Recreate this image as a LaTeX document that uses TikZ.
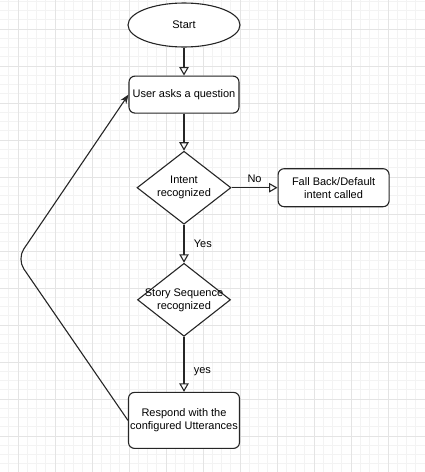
\documentclass[tikz,border=0pt]{standalone}
\usepackage{fontspec}
\setmainfont{Liberation Sans}
\usetikzlibrary{arrows.meta, positioning, shapes.geometric}
\definecolor{ink}{HTML}{262626}
\definecolor{gridmajor}{HTML}{E4E4E4}
\definecolor{gridminor}{HTML}{F3F3F3}

\begin{document}
\begin{tikzpicture}[
  x=1pt, y=-1pt,
  font=\fontsize{11}{13}\selectfont,
  term/.style={draw=ink, ellipse, line width=1.1pt, fill=white, minimum width=112pt, minimum height=44pt},
  proc/.style={draw=ink, rounded corners=6pt, line width=1.1pt, fill=white, minimum width=110pt, align=center, inner sep=0pt},
  decide/.style={draw=ink, diamond, line width=1.1pt, fill=white, minimum width=94pt, minimum height=73pt, inner sep=0pt},
  dtext/.style={align=center, font=\fontsize{11}{13}\selectfont},
  arr/.style={-{Triangle[open, length=8.5pt, width=9.5pt]}, line width=1.1pt, draw=ink},
  back/.style={-{Stealth[length=9pt, width=7pt]}, line width=1.1pt, draw=ink, rounded corners=12pt},
  lbl/.style={font=\fontsize{11}{13}\selectfont},
  node distance=28pt
]
\useasboundingbox (0,0) rectangle (425,472);
% grid
\begin{scope}
\clip (0,0) rectangle (425,472);
\foreach \i in {-2,...,45} {\draw[gridminor, line width=0.6pt] ({18+9.25*\i},0) -- ({18+9.25*\i},472);}
\foreach \i in {-4,...,48} {\draw[gridminor, line width=0.6pt] (0,{29+9.25*\i}) -- (425,{29+9.25*\i});}
\foreach \i in {0,...,11} {\draw[gridmajor, line width=0.8pt] ({18+37*\i},0) -- ({18+37*\i},472);}
\foreach \i in {-1,...,12} {\draw[gridmajor, line width=0.8pt] (0,{29+37*\i}) -- (425,{29+37*\i});}
\end{scope}

\node[term] (start) at (184,25) {Start};
\node[proc, minimum height=37pt, below=28pt of start] (user) {User asks a question};
\node[decide, below=37pt of user, label={[dtext]center:Intent\\recognized}] (intent) {};
\node[proc, minimum height=38pt, minimum width=111pt, right=46pt of intent] (fallback) {Fall Back/Default\\intent called};
\node[decide, below=38pt of intent, minimum width=93pt, label={[dtext]center:Story Sequence\\recognized}] (story) {};
\node[proc, minimum height=56pt, minimum width=111pt, below=55pt of story] (respond) {Respond with the\\configured Utterances};
\coordinate (corner) at (17,259);

\draw[arr] (start) -- (user);
\draw[arr] (user) -- (intent);
\draw[arr] (intent) -- node[lbl, above, pos=0.5, yshift=1pt] {No} (fallback);
\draw[arr] (intent) -- node[lbl, right=6pt] {Yes} (story);
\draw[arr] (story) -- node[lbl, right=6pt, pos=0.63] {yes} (respond);
\draw[back] (respond.west) -- (corner) -- (user.west);
\end{tikzpicture}
\end{document}
